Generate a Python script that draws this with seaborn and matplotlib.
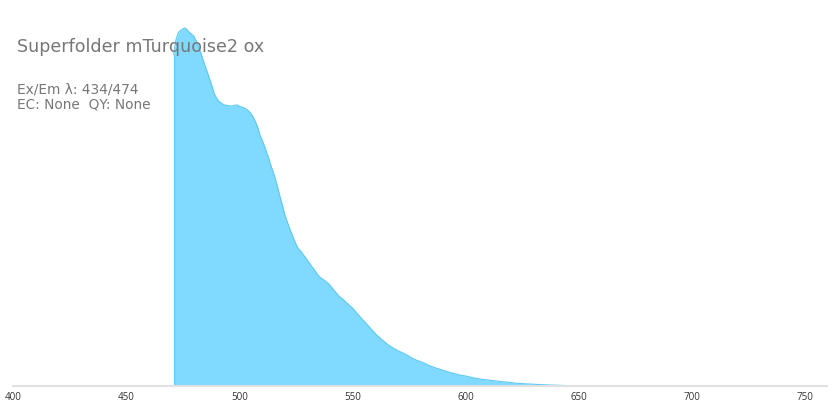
import matplotlib
matplotlib.use("Agg")
import matplotlib.pyplot as plt
import seaborn as sns
import pandas as pd

wavelength = [471, 472, 473, 474, 475, 476, 477, 478, 479, 480, 481, 482, 483, 484, 485,
              486, 487, 488, 489, 490, 491, 492, 493, 494, 495, 496, 497, 498, 499, 500,
              501, 502, 503, 504, 505, 506, 507, 508, 509, 510, 511, 512, 513, 514, 515,
              516, 517, 518, 519, 520, 521, 522, 523, 524, 525, 526, 527, 528, 529, 530,
              531, 532, 533, 534, 535, 536, 537, 538, 539, 540, 541, 542, 543, 544, 546,
              548, 550, 552, 554, 556, 558, 560, 562, 564, 566, 568, 570, 572, 574, 576,
              578, 580, 582, 584, 586, 588, 590, 592, 594, 596, 598, 600, 602, 604, 606,
              608, 610, 612, 614, 616, 618, 620, 622, 624, 626, 628, 630, 632, 634, 636,
              638, 640, 642, 644, 646, 648, 650]
emission = [0.925, 0.966, 0.986, 0.993, 0.997, 1.0, 0.994, 0.987, 0.982, 0.976, 0.962, 0.948, 0.93, 0.91, 0.892,
            0.874, 0.855, 0.836, 0.815, 0.804, 0.795, 0.79, 0.786, 0.784, 0.783, 0.782, 0.782, 0.784, 0.785, 0.781,
            0.779, 0.777, 0.773, 0.769, 0.762, 0.752, 0.74, 0.725, 0.703, 0.688, 0.672, 0.654, 0.636, 0.615, 0.597,
            0.577, 0.553, 0.529, 0.506, 0.48, 0.462, 0.444, 0.428, 0.412, 0.397, 0.384, 0.378, 0.369, 0.361, 0.352,
            0.343, 0.334, 0.326, 0.317, 0.308, 0.302, 0.298, 0.293, 0.288, 0.282, 0.274, 0.266, 0.259, 0.251, 0.241,
            0.229, 0.218, 0.203, 0.189, 0.175, 0.161, 0.147, 0.135, 0.124, 0.114, 0.106, 0.099, 0.093, 0.087, 0.079,
            0.073, 0.068, 0.063, 0.057, 0.052, 0.048, 0.044, 0.040, 0.036, 0.033, 0.030, 0.028, 0.025, 0.022, 0.020,
            0.018, 0.017, 0.015, 0.014, 0.012, 0.011, 0.0095, 0.008, 0.0072, 0.0062, 0.0056, 0.005, 0.0042, 0.0036, 0.003,
            0.0026, 0.0022, 0.0018, 0.0014, 0.001, 0.0005, 0.0]

xticks = [400, 450, 500, 550, 600, 650, 700, 750]
title = "Superfolder mTurquoise2 ox"
subtitle = "Ex/Em λ: 434/474\nEC: None  QY: None"

sns.set_theme(style="white")
plt.rcParams['font.family'] = ['DejaVu Sans']

df = pd.DataFrame({"wavelength": wavelength, "emission": emission})

fig = plt.figure(figsize=(8.4, 4.2), dpi=100)
ax = fig.add_axes([13/840, 1 - 386/420, (826.5 - 13)/840, (386 - 10)/420])

ax.fill_between(df["wavelength"], 0, df["emission"], color="#80d9ff", linewidth=0, zorder=2)
sns.lineplot(data=df, x="wavelength", y="emission", ax=ax, color="#5cc8f5", linewidth=0.8, zorder=3)
ax.plot([wavelength[0], wavelength[0]], [0, emission[0]], color="#5cc8f5", linewidth=0.8, zorder=3)

ax.set_xlim(400, 759.5)
ax.set_ylim(0, 1.05)
ax.set_xticks(xticks)
ax.set_xticklabels([str(t) for t in xticks], fontsize=7, color="#333333", family=["Open Sans", "DejaVu Sans"])
ax.set_yticks([])
ax.set_xlabel("")
ax.set_ylabel("")
ax.tick_params(axis="x", length=0, pad=4)
for s in ["top", "right", "left"]:
    ax.spines[s].set_visible(False)
ax.spines["bottom"].set_color("#e0e0e0")
ax.spines["bottom"].set_linewidth(1.5)
ax.spines["bottom"].set_zorder(4)

fig.text(17/840, 1 - 52/420, title, fontsize=12.6, color="#777777", ha="left", va="baseline")
fig.text(17/840, 1 - 109/420, subtitle, fontsize=9.9, color="#777777", ha="left", va="baseline", linespacing=1.1)

fig.savefig("out.png", dpi=100)
